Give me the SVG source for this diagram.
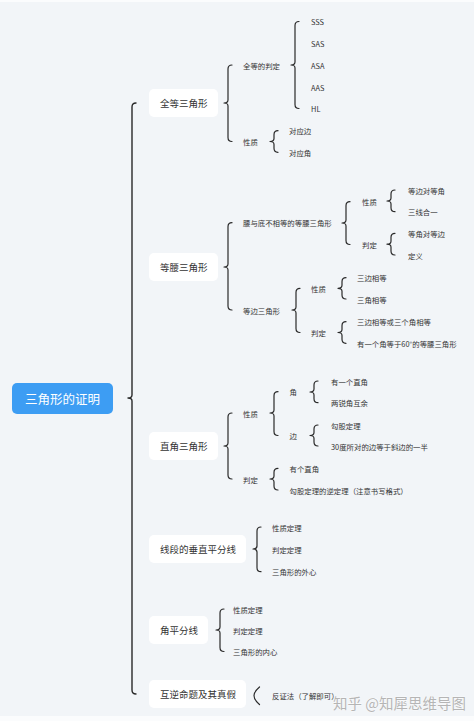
<svg xmlns="http://www.w3.org/2000/svg" width="474" height="721" viewBox="0 0 474 721">
<style>
text{font-family:"Noto Sans CJK SC","Noto Sans",sans-serif;dominant-baseline:central;fill:#333}
.root{font-size:12.5px;fill:#fff;text-anchor:middle}
.l1{font-size:9.5px}
.l2{font-size:7.4px}
.box{fill:#fff}
.br{fill:none;stroke:#2a2a2a;stroke-width:1.2;stroke-linecap:round;stroke-linejoin:round}
.main{stroke-width:1.4}
.wm{font-size:14.5px;fill:#b5b5b5;stroke:#fff;stroke-width:0.6;paint-order:stroke}
</style>
<rect x="0" y="0" width="474" height="721" fill="#fbfcfd"/>
<rect x="0" y="2" width="474" height="714" fill="#f2f5f8"/>

<g id="connectors">
<!-- main brace -->
<path class="br main" d="M136 103 Q132 103 132 107 L132 395 Q132 398 128 398 Q132 398 132 401 L132 690 Q132 694 136 694"/>
<!-- 全等三角形 -->
<path class="br" d="M232 65 Q228 65 228 69 L228 100 Q228 103 224 103 Q228 103 228 106 L228 137.5 Q228 141.5 232 141.5"/>
<path class="br" d="M299 21.5 Q295 21.5 295 25.5 L295 62 Q295 65 291 65 Q295 65 295 68 L295 104.5 Q295 108.5 299 108.5"/>
<path class="br" d="M278 130.7 Q274 130.7 274 134.7 L274 138.5 Q274 141.5 270 141.5 Q274 141.5 274 144.5 L274 148.3 Q274 152.3 278 152.3"/>
<!-- 等腰三角形 -->
<path class="br" d="M232 222.7 Q228 222.7 228 226.7 L228 264 Q228 267 224 267 Q228 267 228 270 L228 306 Q228 310 232 310"/>
<path class="br" d="M350 201.7 Q346 201.7 346 205.7 L346 220 Q346 223 342 223 Q346 223 346 226 L346 240.5 Q346 244.5 350 244.5"/>
<path class="br" d="M395 190 Q391 190 391 194 L391 198 Q391 201 387 201 Q391 201 391 204 L391 207.7 Q391 211.7 395 211.7"/>
<path class="br" d="M395 233.3 Q391 233.3 391 237.3 L391 241.2 Q391 244.2 387 244.2 Q391 244.2 391 247.2 L391 251 Q391 255 395 255"/>
<path class="br" d="M300 288.3 Q296 288.3 296 292.3 L296 307 Q296 310 292 310 Q296 310 296 313 L296 328.5 Q296 332.5 300 332.5"/>
<path class="br" d="M346 277.7 Q342 277.7 342 281.7 L342 285.3 Q342 288.3 338 288.3 Q342 288.3 342 291.3 L342 295 Q342 299 346 299"/>
<path class="br" d="M346 321.7 Q342 321.7 342 325.7 L342 329.5 Q342 332.5 338 332.5 Q342 332.5 342 335.5 L342 339.3 Q342 343.3 346 343.3"/>
<!-- 直角三角形 -->
<path class="br" d="M232 413 Q228 413 228 417 L228 443 Q228 446 224 446 Q228 446 228 449 L228 475 Q228 479 232 479"/>
<path class="br" d="M278 391.7 Q274 391.7 274 395.7 L274 410 Q274 413 270 413 Q274 413 274 416 L274 431.5 Q274 435.5 278 435.5"/>
<path class="br" d="M318 381 Q314 381 314 385 L314 389 Q314 392 310 392 Q314 392 314 395 L314 398.7 Q314 402.7 318 402.7"/>
<path class="br" d="M318 425 Q314 425 314 429 L314 432.5 Q314 435.5 310 435.5 Q314 435.5 314 438.5 L314 442 Q314 446 318 446"/>
<path class="br" d="M278 468.3 Q274 468.3 274 472.3 L274 476 Q274 479 270 479 Q274 479 274 482 L274 486 Q274 490 278 490"/>
<!-- 线段的垂直平分线 -->
<path class="br" d="M261 527 Q257 527 257 531 L257 546 Q257 549 253 549 Q257 549 257 552 L257 567.7 Q257 571.7 261 571.7"/>
<!-- 角平分线 -->
<path class="br" d="M224 609 Q220 609 220 613 L220 627 Q220 630 216 630 Q220 630 220 633 L220 647.5 Q220 651.5 224 651.5"/>
<!-- 互逆命题及其真假 -->
<path class="br" d="M259.5 687 C255.5 690.5 254 693 254 695.5 C254 698 255.5 701 259.5 704.5"/>
</g>

<g id="root">
<rect x="12" y="383" width="101" height="31" rx="5" fill="#3d9df3"/>
<text class="root" x="62.5" y="398.5">三角形的证明</text>
</g>

<g id="n-quandeng">
<rect class="box" x="149" y="89" width="69" height="28" rx="5"/>
<text class="l1" x="160" y="103">全等三角形</text>
<text class="l2" x="243" y="65">全等的判定</text>
<text class="l2" x="311" y="21.5">SSS</text>
<text class="l2" x="311" y="43">SAS</text>
<text class="l2" x="311" y="65">ASA</text>
<text class="l2" x="311" y="87">AAS</text>
<text class="l2" x="311" y="108.5">HL</text>
<text class="l2" x="243" y="141.5">性质</text>
<text class="l2" x="289" y="130.7">对应边</text>
<text class="l2" x="289" y="152.3">对应角</text>
</g>

<g id="n-dengyao">
<rect class="box" x="149" y="253" width="69" height="28" rx="5"/>
<text class="l1" x="160" y="267">等腰三角形</text>
<text class="l2" x="243" y="222.7">腰与底不相等的等腰三角形</text>
<text class="l2" x="362" y="201.7">性质</text>
<text class="l2" x="408" y="190">等边对等角</text>
<text class="l2" x="408" y="211.7">三线合一</text>
<text class="l2" x="362" y="244.5">判定</text>
<text class="l2" x="408" y="233.3">等角对等边</text>
<text class="l2" x="408" y="255">定义</text>
<text class="l2" x="243" y="310">等边三角形</text>
<text class="l2" x="311" y="288.3">性质</text>
<text class="l2" x="357" y="277.7">三边相等</text>
<text class="l2" x="357" y="299">三角相等</text>
<text class="l2" x="311" y="332.5">判定</text>
<text class="l2" x="357" y="321.7">三边相等或三个角相等</text>
<text class="l2" x="357" y="343.3">有一个角等于60°的等腰三角形</text>
</g>

<g id="n-zhijiao">
<rect class="box" x="149" y="432" width="69" height="28" rx="5"/>
<text class="l1" x="160" y="446">直角三角形</text>
<text class="l2" x="243" y="413.3">性质</text>
<text class="l2" x="289.5" y="391.7">角</text>
<text class="l2" x="331" y="381">有一个直角</text>
<text class="l2" x="331" y="402.7">两锐角互余</text>
<text class="l2" x="289.5" y="435.5">边</text>
<text class="l2" x="331" y="425">勾股定理</text>
<text class="l2" x="331" y="446">30度所对的边等于斜边的一半</text>
<text class="l2" x="243" y="479">判定</text>
<text class="l2" x="289.5" y="468.3">有个直角</text>
<text class="l2" x="289.5" y="490">勾股定理的逆定理（注意书写格式）</text>
</g>

<g id="n-chuizhi">
<rect class="box" x="149" y="535" width="97" height="28" rx="5"/>
<text class="l1" x="160" y="549">线段的垂直平分线</text>
<text class="l2" x="272" y="527">性质定理</text>
<text class="l2" x="272" y="549.3">判定定理</text>
<text class="l2" x="272" y="571.7">三角形的外心</text>
</g>

<g id="n-jiaopingfen">
<rect class="box" x="149" y="616" width="59" height="28" rx="5"/>
<text class="l1" x="160" y="630">角平分线</text>
<text class="l2" x="233" y="609">性质定理</text>
<text class="l2" x="233" y="630">判定定理</text>
<text class="l2" x="233" y="651.5">三角形的内心</text>
</g>

<g id="n-huni">
<rect class="box" x="149" y="680" width="97" height="28" rx="5"/>
<text class="l1" x="160" y="694">互逆命题及其真假</text>
<text class="l2" x="272" y="695">反证法（了解即可）</text>
</g>

<text class="wm" x="333" y="702">知乎 @知犀思维导图</text>
</svg>
